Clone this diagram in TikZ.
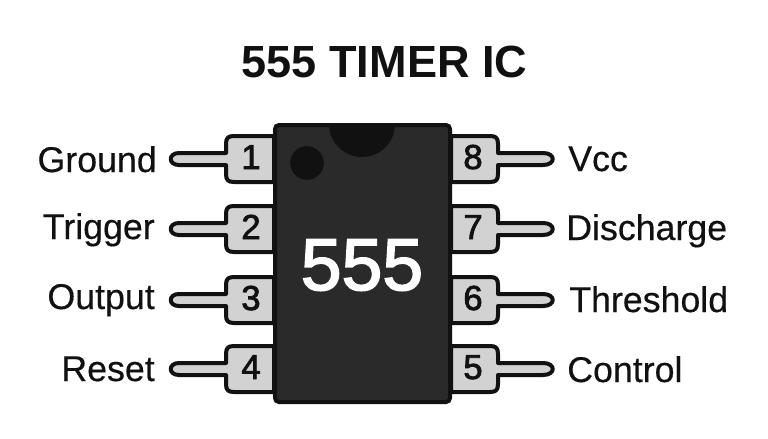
\documentclass[tikz,border=0pt]{standalone}
\usepackage{fontspec}
\setmainfont{Liberation Sans}
\newfontfamily\medfont[FakeBold=2.2]{Liberation Sans}
\newfontfamily\lblfont[FakeBold=0.4]{Liberation Sans}
\definecolor{chip}{HTML}{2B2A2B}
\definecolor{pinfill}{HTML}{D2D2D3}
\definecolor{ink}{HTML}{111111}
\tikzset{
  pinshape/.style={draw=ink,fill=pinfill,line width=3pt,line join=round},
  pinnum/.style={font=\medfont\fontsize{26}{26}\selectfont,text=ink,inner sep=0pt,anchor=base},
  lbl/.style={font=\lblfont\fontsize{26.8}{27}\selectfont,text=ink,inner sep=0pt,anchor=base},
}
\begin{document}
\begin{tikzpicture}[x=0.75pt,y=-0.75pt]
\useasboundingbox (0,0) rectangle (768,439);
\fill[white] (0,0) rectangle (768,439);
\node[font=\fontsize{33.8}{34}\selectfont\bfseries,text=ink,inner sep=0pt,anchor=base] (title) at (384.5,77) {555 TIMER IC};
% left pins
\foreach \y/\n in {159/1, 229/2, 300/3, 369/4}{
  \draw[pinshape] (179,\y-6) .. controls (168,\y-6) and (168,\y+6) .. (179,\y+6) -- (226,\y+6)
     -- (226,\y+15) .. controls (226,\y+21) and (228,\y+23) .. (234,\y+23) -- (274,\y+23) -- (274,\y-23)
     -- (234,\y-23) .. controls (228,\y-23) and (226,\y-21) .. (226,\y-15) -- (226,\y-6) -- cycle;
  \node[pinnum] (n\n) at (251,\y+10) {\n};
}
% right pins
\foreach \y/\n in {159/8, 229/7, 300/6, 369/5}{
  \draw[pinshape] (543,\y-6) .. controls (556,\y-6) and (556,\y+6) .. (543,\y+6) -- (498,\y+6)
     -- (498,\y+15) .. controls (498,\y+21) and (496,\y+23) .. (490,\y+23) -- (451,\y+23) -- (451,\y-23)
     -- (490,\y-23) .. controls (496,\y-23) and (498,\y-21) .. (498,\y-15) -- (498,\y-6) -- cycle;
  \node[pinnum] (n\n) at (473,\y+10) {\n};
}
% body
\draw[draw=ink,fill=chip,line width=3pt,rounded corners=3pt] (275,125) rectangle (450,402);
\begin{scope}
\clip (275,125) rectangle (450,402);
\fill[ink] (362,124) circle[radius=33];
\end{scope}
\draw[draw=ink,fill=ink] (307,163) circle[radius=16.5];
\node[font=\medfont\fontsize{55}{55}\selectfont,text=white,inner sep=0pt,anchor=base] (chipname) at (362,290) {555};
% labels
\node[lbl,anchor=base east] (l1) at (157,172) {Ground};
\node[lbl,anchor=base east] (l2) at (155,239) {Trigger};
\node[lbl,anchor=base east] (l3) at (155,309) {Output};
\node[lbl,anchor=base east] (l4) at (155,381) {Reset};
\node[lbl,anchor=base west] (l8) at (568,171) {Vcc};
\node[lbl,anchor=base west] (l7) at (566,240) {Discharge};
\node[lbl,anchor=base west] (l6) at (569,312) {Threshold};
\node[lbl,anchor=base west] (l5) at (567,382) {Control};
\end{tikzpicture}
\end{document}
